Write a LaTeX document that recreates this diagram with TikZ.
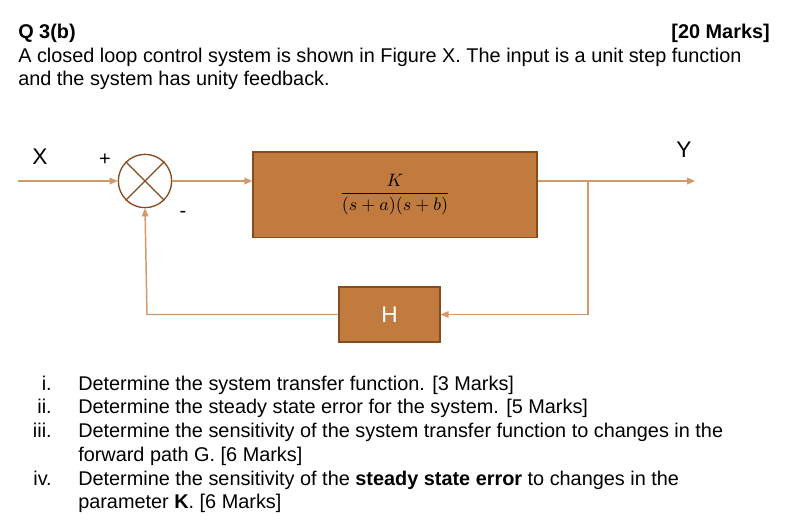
\documentclass[tikz,border=0pt]{standalone}
\usepackage{fontspec}
\setmainfont{Liberation Sans}
\usetikzlibrary{arrows.meta}
\definecolor{boxfill}{HTML}{C27B3F}
\definecolor{boxline}{HTML}{8A4B1C}
\definecolor{wire}{HTML}{D29A6A}
\begin{document}
\begin{tikzpicture}[x=0.75pt,y=-0.75pt,
  wirest/.style={draw=wire,line width=1.1pt},
  arr/.style={wirest,-{Triangle[length=6pt,width=5pt]}},
  blk/.style={draw=boxline,fill=boxfill,line width=1pt,inner sep=0pt},
  txt/.style={anchor=base west,inner sep=0pt,font=\fontsize{14.9}{18}\selectfont},
  num/.style={anchor=base east,inner sep=0pt,font=\fontsize{14.9}{18}\selectfont}]
\useasboundingbox (0,0) rectangle (799,526);
\node[txt,font=\fontsize{14.9}{18}\selectfont\bfseries] (q) at (18,38) {Q 3(b)};
\node[txt,anchor=base east,font=\fontsize{14.9}{18}\selectfont\bfseries] (m) at (770,38) {[20 Marks]};
\node[txt] (l1) at (18,62) {A closed loop control system is shown in Figure X. The input is a unit step function};
\node[txt] (l2) at (18,85) {and the system has unity feedback.};
\node[font=\fontsize{17}{20}\selectfont] (X) at (40,157) {X};
\node[font=\fontsize{15}{18}\selectfont] (plus) at (105,160) {+};
\node[font=\fontsize{15}{18}\selectfont] (minus) at (183,214) {-};
\node[font=\fontsize{17}{20}\selectfont] (Y) at (684,150) {Y};
\node[circle,draw=boxline,line width=1pt,minimum size=40pt,fill=white] (sum) at (145,181) {};
\draw[boxline,line width=1pt] (sum.north west) -- (sum.south east) (sum.north east) -- (sum.south west);
\node[blk,minimum width=213pt,minimum height=64pt] (G) at (395,194.5) {};
\node[scale=1.35] (frac) at (395,194.5) {$\displaystyle\frac{K}{(s+a)(s+b)}$};
\node[blk,minimum width=75.75pt,minimum height=41.25pt,text=white,font=\fontsize{17}{20}\selectfont] (H) at (389.5,314.5) {H};
\coordinate (in) at (18,181);
\coordinate (out) at (695,181);
\coordinate (br) at (588,181);
\coordinate (c1) at (588,314.5);
\coordinate (c2) at (147,314.5);
\draw[arr] (in) -- (sum.west);
\draw[arr] (sum.east) -- (sum.east -| G.west);
\draw[arr] (sum.east -| G.east) -- (out);
\draw[arr] (br) -- (c1) -- (H.east);
\draw[arr] (H.west) -- (c2) -- (sum.south);
\node[num] (n1) at (52,390) {i.};
\node[txt] (t1) at (78,390) {Determine the system transfer function. [3 Marks]};
\node[num] (n2) at (52,413) {ii.};
\node[txt] (t2) at (78,413) {Determine the steady state error for the system. [5 Marks]};
\node[num] (n3) at (52,437) {iii.};
\node[txt] (t3) at (78,437) {Determine the sensitivity of the system transfer function to changes in the};
\node[txt] (t3b) at (78,461) {forward path G. [6 Marks]};
\node[num] (n4) at (52,485) {iv.};
\node[txt] (t4) at (78,485) {Determine the sensitivity of the \textbf{steady state error} to changes in the};
\node[txt] (t4b) at (78,508) {parameter \textbf{K}. [6 Marks]};
\end{tikzpicture}
\end{document}
